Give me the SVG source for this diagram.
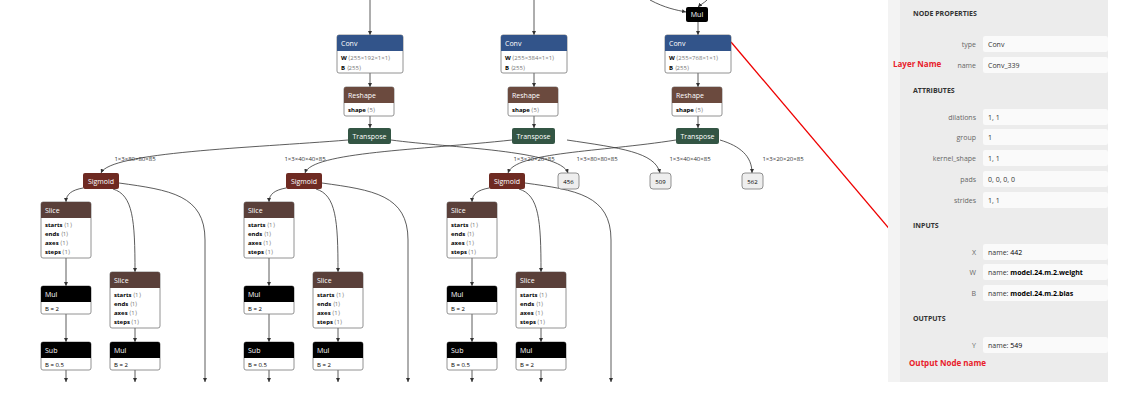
<svg xmlns="http://www.w3.org/2000/svg" width="1131" height="403" viewBox="0 0 1131 403">
<style>
text{font-family:"Open Sans","Noto Sans",sans-serif}
.h{font-size:7px;fill:#fff}
.b{font-size:6px;fill:#000}
.g{fill:#777}
.box{fill:#fff;stroke:#777;stroke-width:0.8}
.e{fill:none;stroke:#333;stroke-width:0.8;marker-end:url(#a)}
.l{font-size:6px;fill:#333}
.pk{font-size:7px;fill:#666;text-anchor:end}
.pv{font-size:7px;fill:#333}
.ph{font-size:7px;font-weight:bold;fill:#333}
.fld{fill:#fafafa}
</style>
<defs>
<marker id="a" viewBox="0 0 6 6" refX="6" refY="3" markerWidth="5" markerHeight="5" orient="auto"><path d="M0,0L6,3L0,6z" fill="#333"/></marker>
</defs>
<rect width="1131" height="403" fill="#fff"/>
<g id="connectors">
<path class="e" d="M370,0V35"/>
<path class="e" d="M534,0V35"/>
<path class="e" d="M650,0C665,8 676,10 686,12"/>
<path class="e" d="M707,0C704,3 700,5 698,7"/>
<path class="e" d="M698,22V35"/>
<path class="e" d="M370,73V87"/><path class="e" d="M534,73V87"/><path class="e" d="M698,73V87"/>
<path class="e" d="M370,116V128"/><path class="e" d="M534,116V128"/><path class="e" d="M698,116V128"/>
<path class="e" d="M348,140C250,148 110,152 101,173"/>
<path class="e" d="M391,140C450,148 560,150 568,173"/>
<path class="e" d="M512,140C420,150 312,152 305,173"/>
<path class="e" d="M567,140C620,148 655,152 660,173"/>
<path class="e" d="M676,140C600,152 515,152 508,173"/>
<path class="e" d="M720,140C740,146 752,156 752,173"/>
<g id="sigEdges">
<path class="e" d="M83,188C72,190 66,194 66,202"/>
<path class="e" d="M113,189C133,195 135,220 135,272"/>
<path class="e" d="M119,183C170,190 205,195 205,240V382"/>
<path class="e" d="M66,258V286"/><path class="e" d="M66,314V342"/><path class="e" d="M66,370V382"/>
<path class="e" d="M135,328V342"/><path class="e" d="M135,370V382"/>
</g>
<use href="#sigEdges" x="203"/>
<use href="#sigEdges" x="406"/>
<path d="M731,42L975,330" stroke="#e00" stroke-width="1.3"/>
</g>
<g class="l">
<text x="135" y="161" text-anchor="middle">1×3×80×80×85</text>
<text x="305" y="161" text-anchor="middle">1×3×40×40×85</text>
<text x="534" y="161" text-anchor="middle">1×3×20×20×85</text>
<text x="597" y="161" text-anchor="middle" fill="#333">1×3×80×80×85</text>
<text x="690" y="161" text-anchor="middle">1×3×40×40×85</text>
<text x="783" y="161" text-anchor="middle">1×3×20×20×85</text>
</g>
<g id="mul-top"><rect x="686" y="7" width="22" height="15" rx="2" fill="#000"/><text class="h" x="697" y="17" text-anchor="middle">Mul</text></g>
<g id="conv1"><rect class="box" x="337" y="35" width="66" height="38" rx="2"/><path d="M339,35h62a2,2 0 0 1 2,2v14h-66v-14a2,2 0 0 1 2-2z" fill="#32548a"/><text class="h" x="341" y="46">Conv</text><text class="b" x="341" y="60"><tspan font-weight="bold">W</tspan><tspan class="g"> ⟨255×192×1×1⟩</tspan></text><text class="b" x="341" y="70"><tspan font-weight="bold">B</tspan><tspan class="g"> ⟨255⟩</tspan></text></g>
<g id="conv2"><rect class="box" x="501" y="35" width="66" height="38" rx="2"/><path d="M503,35h62a2,2 0 0 1 2,2v14h-66v-14a2,2 0 0 1 2-2z" fill="#32548a"/><text class="h" x="505" y="46">Conv</text><text class="b" x="505" y="60"><tspan font-weight="bold">W</tspan><tspan class="g"> ⟨255×384×1×1⟩</tspan></text><text class="b" x="505" y="70"><tspan font-weight="bold">B</tspan><tspan class="g"> ⟨255⟩</tspan></text></g>
<g id="conv3"><rect class="box" x="665" y="35" width="66" height="38" rx="2"/><path d="M667,35h62a2,2 0 0 1 2,2v14h-66v-14a2,2 0 0 1 2-2z" fill="#32548a"/><text class="h" x="669" y="46">Conv</text><text class="b" x="669" y="60"><tspan font-weight="bold">W</tspan><tspan class="g"> ⟨255×768×1×1⟩</tspan></text><text class="b" x="669" y="70"><tspan font-weight="bold">B</tspan><tspan class="g"> ⟨255⟩</tspan></text></g>
<g id="reshape1"><rect class="box" x="344" y="87" width="50" height="29" rx="2"/><path d="M346,87h46a2,2 0 0 1 2,2v14h-50v-14a2,2 0 0 1 2-2z" fill="#6b4a3e"/><text class="h" x="348" y="98">Reshape</text><text class="b" x="348" y="112"><tspan font-weight="bold">shape</tspan><tspan class="g"> ⟨5⟩</tspan></text></g>
<g id="reshape2"><rect class="box" x="508" y="87" width="50" height="29" rx="2"/><path d="M510,87h46a2,2 0 0 1 2,2v14h-50v-14a2,2 0 0 1 2-2z" fill="#6b4a3e"/><text class="h" x="512" y="98">Reshape</text><text class="b" x="512" y="112"><tspan font-weight="bold">shape</tspan><tspan class="g"> ⟨5⟩</tspan></text></g>
<g id="reshape3"><rect class="box" x="672" y="87" width="50" height="29" rx="2"/><path d="M674,87h46a2,2 0 0 1 2,2v14h-50v-14a2,2 0 0 1 2-2z" fill="#6b4a3e"/><text class="h" x="676" y="98">Reshape</text><text class="b" x="676" y="112"><tspan font-weight="bold">shape</tspan><tspan class="g"> ⟨5⟩</tspan></text></g>
<g id="transpose1"><rect x="348" y="128" width="43" height="16" rx="2" fill="#335544"/><text class="h" x="369.5" y="139" text-anchor="middle">Transpose</text></g>
<g id="transpose2"><rect x="512" y="128" width="43" height="16" rx="2" fill="#335544"/><text class="h" x="533.5" y="139" text-anchor="middle">Transpose</text></g>
<g id="transpose3"><rect x="676" y="128" width="43" height="16" rx="2" fill="#335544"/><text class="h" x="697.5" y="139" text-anchor="middle">Transpose</text></g>
<g id="out456"><rect x="558" y="173" width="21" height="16" rx="3" fill="#eee" stroke="#777" stroke-width="0.8"/><text class="b" x="568.5" y="184" text-anchor="middle" fill="#333">456</text></g>
<g id="out509"><rect x="650" y="173" width="21" height="16" rx="3" fill="#eee" stroke="#777" stroke-width="0.8"/><text class="b" x="660.5" y="184" text-anchor="middle" fill="#333">509</text></g>
<g id="out562"><rect x="742" y="173" width="21" height="16" rx="3" fill="#eee" stroke="#777" stroke-width="0.8"/><text class="b" x="752.5" y="184" text-anchor="middle" fill="#333">562</text></g>
<defs>
<g id="grp">
<rect x="83" y="173" width="36" height="16" rx="2" fill="#6e2a22"/><text class="h" x="101" y="184" text-anchor="middle">Sigmoid</text>
<rect class="box" x="41" y="202" width="50" height="56" rx="2"/><path d="M43,202h46a2,2 0 0 1 2,2v14h-50v-14a2,2 0 0 1 2-2z" fill="#5a403a"/><text class="h" x="45" y="213">Slice</text>
<text class="b" x="45" y="227"><tspan font-weight="bold">starts</tspan><tspan class="g"> ⟨1⟩</tspan></text><text class="b" x="45" y="236"><tspan font-weight="bold">ends</tspan><tspan class="g"> ⟨1⟩</tspan></text><text class="b" x="45" y="245"><tspan font-weight="bold">axes</tspan><tspan class="g"> ⟨1⟩</tspan></text><text class="b" x="45" y="254"><tspan font-weight="bold">steps</tspan><tspan class="g"> ⟨1⟩</tspan></text>
<rect class="box" x="110" y="272" width="50" height="56" rx="2"/><path d="M112,272h46a2,2 0 0 1 2,2v14h-50v-14a2,2 0 0 1 2-2z" fill="#5a403a"/><text class="h" x="114" y="283">Slice</text>
<text class="b" x="114" y="297"><tspan font-weight="bold">starts</tspan><tspan class="g"> ⟨1⟩</tspan></text><text class="b" x="114" y="306"><tspan font-weight="bold">ends</tspan><tspan class="g"> ⟨1⟩</tspan></text><text class="b" x="114" y="315"><tspan font-weight="bold">axes</tspan><tspan class="g"> ⟨1⟩</tspan></text><text class="b" x="114" y="324"><tspan font-weight="bold">steps</tspan><tspan class="g"> ⟨1⟩</tspan></text>
<rect class="box" x="41" y="286" width="50" height="28" rx="2"/><path d="M43,286h46a2,2 0 0 1 2,2v14h-50v-14a2,2 0 0 1 2-2z" fill="#000"/><text class="h" x="45" y="297">Mul</text><text class="b" x="45" y="311">B = 2</text>
<rect class="box" x="41" y="342" width="50" height="28" rx="2"/><path d="M43,342h46a2,2 0 0 1 2,2v14h-50v-14a2,2 0 0 1 2-2z" fill="#000"/><text class="h" x="45" y="353">Sub</text><text class="b" x="45" y="367">B = 0.5</text>
<rect class="box" x="110" y="342" width="50" height="28" rx="2"/><path d="M112,342h46a2,2 0 0 1 2,2v14h-50v-14a2,2 0 0 1 2-2z" fill="#000"/><text class="h" x="114" y="353">Mul</text><text class="b" x="114" y="367">B = 2</text>
</g>
</defs>
<g id="branch1"><use href="#grp"/></g>
<g id="branch2"><use href="#grp" x="203"/></g>
<g id="branch3"><use href="#grp" x="406"/></g>
<g id="panel">
<rect x="888" y="0" width="220" height="382" fill="#ececec"/>
<rect x="888" y="0" width="12" height="382" fill="#f3f3f3"/>
<text class="ph" x="913" y="16">NODE PROPERTIES</text>
<rect class="fld" x="983" y="36" width="125" height="16" rx="2"/><text class="pk" x="976" y="47">type</text><text class="pv" x="988" y="47">Conv</text>
<rect class="fld" x="983" y="57" width="125" height="16" rx="2"/><text class="pk" x="976" y="68">name</text><text class="pv" x="988" y="68">Conv_339</text>
<text class="ph" x="913" y="93">ATTRIBUTES</text>
<rect class="fld" x="983" y="109" width="125" height="16" rx="2"/><text class="pk" x="976" y="120">dilations</text><text class="pv" x="988" y="120">1, 1</text>
<rect class="fld" x="983" y="129" width="125" height="16" rx="2"/><text class="pk" x="976" y="140">group</text><text class="pv" x="988" y="140">1</text>
<rect class="fld" x="983" y="150" width="125" height="16" rx="2"/><text class="pk" x="976" y="161">kernel_shape</text><text class="pv" x="988" y="161">1, 1</text>
<rect class="fld" x="983" y="171" width="125" height="16" rx="2"/><text class="pk" x="976" y="182">pads</text><text class="pv" x="988" y="182">0, 0, 0, 0</text>
<rect class="fld" x="983" y="192" width="125" height="16" rx="2"/><text class="pk" x="976" y="203">strides</text><text class="pv" x="988" y="203">1, 1</text>
<text class="ph" x="913" y="228">INPUTS</text>
<rect class="fld" x="983" y="244" width="125" height="16" rx="2"/><text class="pk" x="976" y="255">X</text><text class="pv" x="988" y="255">name: <tspan fill="#000">442</tspan></text>
<rect class="fld" x="983" y="264" width="125" height="16" rx="2"/><text class="pk" x="976" y="275">W</text><text class="pv" x="988" y="275">name: <tspan fill="#000" font-weight="bold">model.24.m.2.weight</tspan></text>
<rect class="fld" x="983" y="285" width="125" height="16" rx="2"/><text class="pk" x="976" y="296">B</text><text class="pv" x="988" y="296">name: <tspan fill="#000" font-weight="bold">model.24.m.2.bias</tspan></text>
<text class="ph" x="913" y="321">OUTPUTS</text>
<rect class="fld" x="983" y="337" width="125" height="16" rx="2"/><text class="pk" x="976" y="348">Y</text><text class="pv" x="988" y="348">name: <tspan fill="#000">549</tspan></text>
<text x="893" y="67" font-size="8" font-weight="bold" fill="#e8202a">Layer Name</text>
<text x="909" y="366" font-size="8" font-weight="bold" fill="#e8202a">Output Node name</text>
</g>
</svg>
